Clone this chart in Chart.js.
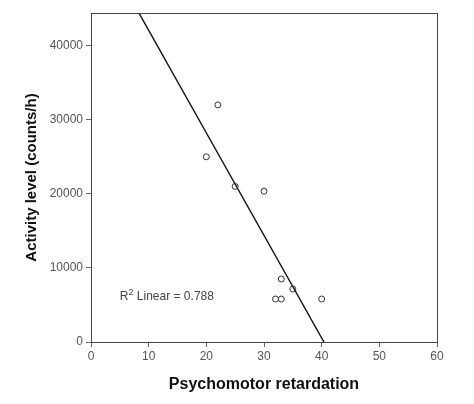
<!DOCTYPE html>
<html>
<head>
<meta charset="utf-8">
<script src="https://cdn.jsdelivr.net/npm/chart.js@4.4.1/dist/chart.umd.min.js"></script>
<style>
  body { margin: 0; background: #fff; }
  #wrap { width: 474px; height: 404px; }
</style>
</head>
<body>
<div id="wrap"><canvas id="scatter"></canvas></div>
<script>
// observed points
const retardation = [22, 20, 25, 30, 33, 35, 32, 33, 40];
const activity = [32000, 25000, 21000, 20350, 8500, 7150, 5800, 5800, 5800];

// fit line end points (clipped by the plot area)
const fitX = [0, 40.4];
const fitY = [55900, 0];

const xTicks = [0, 10, 20, 30, 40, 50, 60];
const yTicks = [0, 10000, 20000, 30000, 40000];
const r2Text = 'Linear = 0.788';

const points = retardation.map((x, i) => ({x: x, y: activity[i]}));
const fitLine = fitX.map((x, i) => ({x: x, y: fitY[i]}));

// frame round the plot + R² note
const framePlugin = {
  id: 'frame',
  afterDraw(chart) {
    const a = chart.chartArea;
    const ctx = chart.ctx;
    ctx.save();
    ctx.strokeStyle = '#444';
    ctx.lineWidth = 1;
    ctx.strokeRect(a.left + 0.5, a.top + 0.5, a.right - a.left, a.bottom - a.top);

    const xs = chart.scales.x, ys = chart.scales.y;
    const tx = xs.getPixelForValue(5.0);
    const ty = ys.getPixelForValue(5700);
    ctx.fillStyle = '#444';
    ctx.textBaseline = 'alphabetic';
    ctx.font = '12px "Liberation Sans", Arial, sans-serif';
    ctx.fillText('R', tx, ty);
    const rw = ctx.measureText('R').width;
    ctx.font = '9px "Liberation Sans", Arial, sans-serif';
    ctx.fillText('2', tx + rw, ty - 5);
    const sw = ctx.measureText('2').width;
    ctx.font = '12px "Liberation Sans", Arial, sans-serif';
    ctx.fillText(' ' + r2Text, tx + rw + sw, ty);
    ctx.restore();
  }
};

new Chart(document.getElementById('scatter'), {
  type: 'scatter',
  data: {
    datasets: [
      {
        data: points,
        showLine: false,
        pointRadius: 3,
        pointBorderWidth: 1,
        pointBorderColor: '#333',
        pointBackgroundColor: 'rgba(0,0,0,0)'
      },
      {
        data: fitLine,
        showLine: true,
        borderColor: '#111',
        borderWidth: 1.4,
        pointRadius: 0
      }
    ]
  },
  options: {
    responsive: true,
    maintainAspectRatio: false,
    animation: false,
    layout: { padding: { left: 0, right: 37, top: 13, bottom: 0 } },
    plugins: {
      legend: { display: false },
      tooltip: { enabled: false }
    },
    scales: {
      x: {
        type: 'linear',
        min: 0,
        max: 60,
        afterBuildTicks: (s) => { s.ticks = xTicks.map(v => ({value: v})); },
        afterFit: (s) => { s.height = 62; },
        grid: { drawOnChartArea: false, tickLength: 5, color: '#666' },
        border: { color: '#666' },
        ticks: {
          color: '#555',
          padding: 2,
          font: { family: '"Liberation Sans", Arial, sans-serif', size: 12 }
        },
        title: {
          display: true,
          text: 'Psychomotor retardation',
          color: '#111',
          padding: { top: 8, bottom: 10 },
          font: { family: '"Liberation Sans", Arial, sans-serif', size: 16, weight: 'bold' }
        }
      },
      y: {
        type: 'linear',
        min: 0,
        max: 44400,
        afterBuildTicks: (s) => { s.ticks = yTicks.map(v => ({value: v})); },
        afterFit: (s) => { s.width = 91; },
        grid: { drawOnChartArea: false, tickLength: 5, color: '#666' },
        border: { color: '#666' },
        ticks: {
          color: '#555',
          padding: 3,
          callback: (v) => String(v),
          font: { family: '"Liberation Sans", Arial, sans-serif', size: 12 }
        },
        title: {
          display: true,
          text: 'Activity level (counts/h)',
          color: '#111',
          padding: { top: 23, bottom: 0 },
          font: { family: '"Liberation Sans", Arial, sans-serif', size: 15, weight: 'bold' }
        }
      }
    }
  },
  plugins: [framePlugin]
});
</script>
</body>
</html>
